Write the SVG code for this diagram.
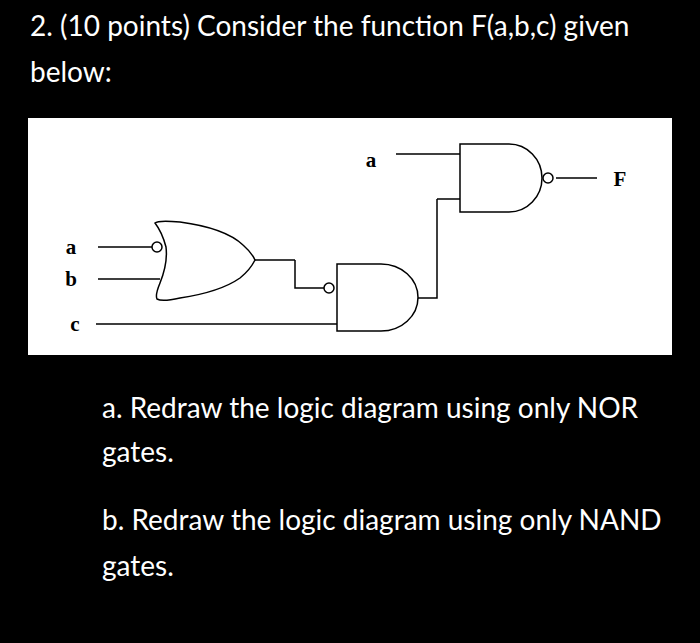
<svg xmlns="http://www.w3.org/2000/svg" width="700" height="643" viewBox="0 0 700 643">
<style>
.t{font-family:Lato,"Open Sans",sans-serif;font-size:28px;fill:#fff}
.l{font-family:"Liberation Serif",serif;font-weight:bold;font-size:21px;fill:#000}
.w{fill:none;stroke:#000;stroke-width:1.5}
.g{fill:#fff;stroke:#000;stroke-width:1.5}
</style>
<rect width="700" height="643" fill="#000"/>
<text class="t" x="30" y="36">2. (10 points) Consider the function F(a,b,c) given</text>
<text class="t" x="30" y="82">below:</text>
<rect x="28" y="118" width="644" height="237" fill="#fff"/>
<g id="connectors">
<path class="w" d="M396 154H460M437 199H460M437 199V298H414M295 260H255M295 260V288H324M96 324H337M98 247H152M98 279H160M556 178H597"/>
</g>
<g id="nand1">
<path class="g" d="M460 144H509A33 34 0 0 1 509 212H460Z"/>
<circle class="g" cx="548" cy="178" r="5"/>
</g>
<g id="and2">
<path class="g" d="M337 264H381A37 33.5 0 0 1 381 331H337Z"/>
<circle class="g" cx="329" cy="288" r="5"/>
</g>
<g id="or1">
<path class="g" d="M155 223Q158 220 180 222Q225 228 243 245Q252 253 255 260Q250 270 240 278Q220 292 180 298Q162 302 157 299Q155 295 160 283Q168 263 166 247Q162 232 155 223Z"/>
<circle class="g" cx="157" cy="247" r="5"/>
</g>
<g id="labels">
<text class="l" x="371" y="167" text-anchor="middle">a</text>
<text class="l" x="620" y="186" text-anchor="middle">F</text>
<text class="l" x="71" y="254" text-anchor="middle">a</text>
<text class="l" x="71" y="286" text-anchor="middle">b</text>
<text class="l" x="75" y="331" text-anchor="middle">c</text>
</g>
<text class="t" x="102" y="418">a. Redraw the logic diagram using only NOR</text>
<text class="t" x="102" y="462">gates.</text>
<text class="t" x="102" y="530">b. Redraw the logic diagram using only NAND</text>
<text class="t" x="102" y="576">gates.</text>
</svg>
